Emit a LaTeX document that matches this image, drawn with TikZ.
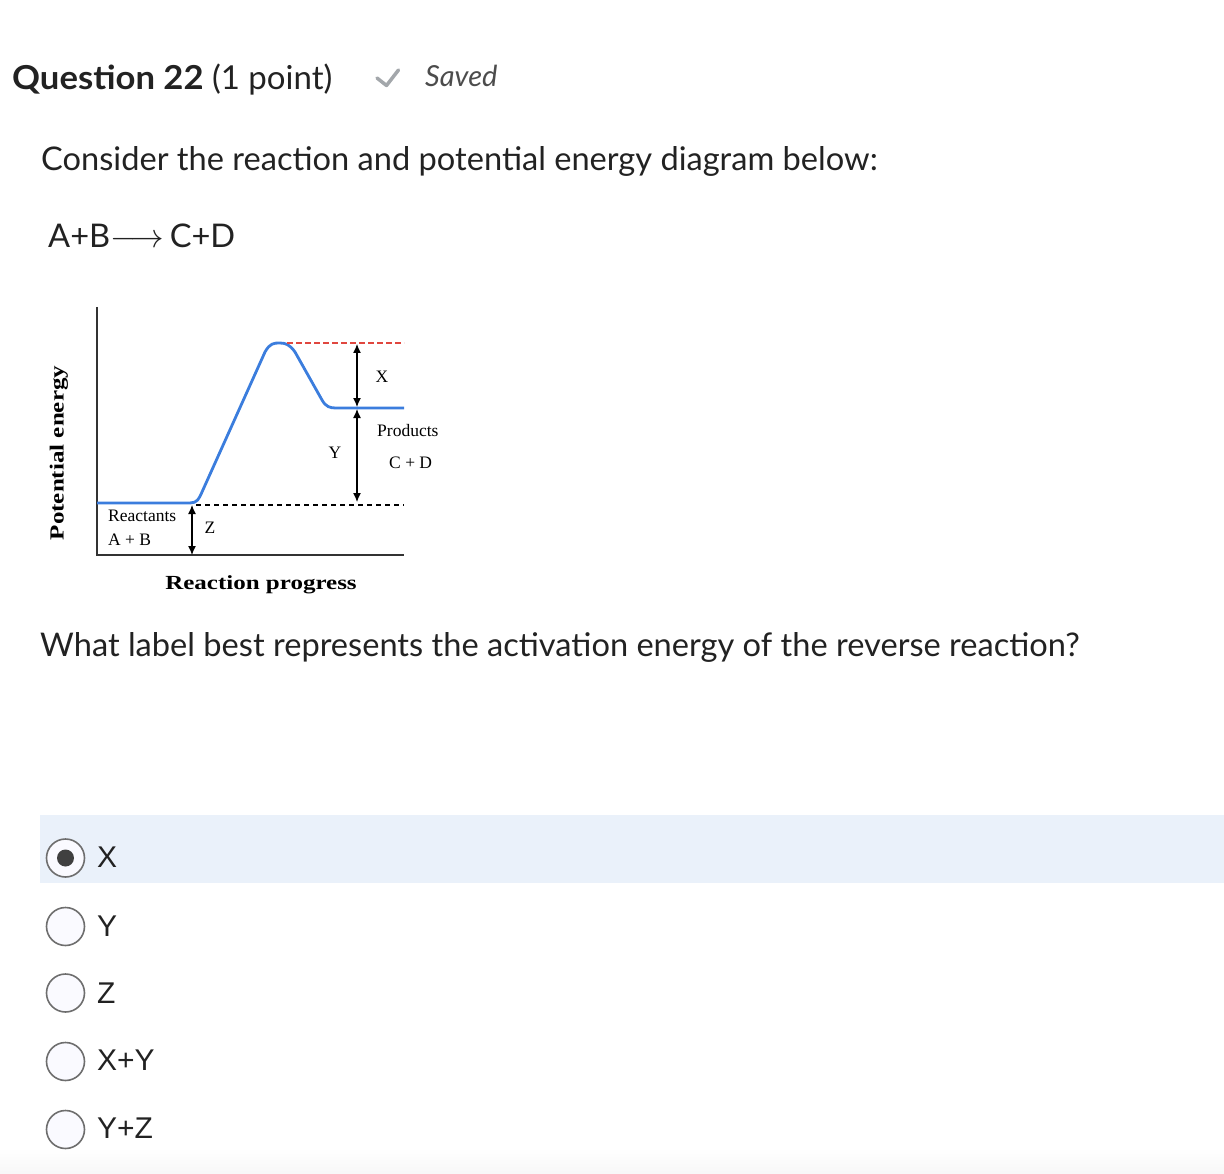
\documentclass[tikz,border=0pt]{standalone}
\usepackage{graphicx}
\usepackage{fontspec}
\setmainfont{Lato}
\newfontfamily\headfont[FakeStretch=1.05]{Lato}
\newfontfamily\plotfont{Liberation Serif}
\newfontfamily\plotbold[FakeStretch=1.25]{Liberation Serif}
\newfontfamily\optfont{Liberation Sans}
\usetikzlibrary{arrows.meta,positioning}

\definecolor{ink}{HTML}{222222}
\definecolor{curveblue}{HTML}{3B7DDD}
\definecolor{peakred}{HTML}{E0473F}
\definecolor{band}{HTML}{EAF1FA}
\definecolor{ring}{HTML}{6E6E6E}
\definecolor{tickgray}{HTML}{A3A7AB}

\begin{document}
\begin{tikzpicture}[x=1pt, y=-1pt,
    txt/.style={anchor=base west,inner sep=0pt,text=ink,font=\fontsize{32.6}{38}\selectfont},
    lbl/.style={inner sep=0pt,font=\plotfont\fontsize{17.5}{20}\selectfont},
    axlbl/.style={inner sep=0pt,font=\plotbold\bfseries\fontsize{20}{24}\selectfont},
    axis/.style={draw=black!80,line width=2pt},
    gap/.style={{Latex[length=9pt,width=8pt]}-{Latex[length=9pt,width=8pt]},line width=1.2pt},
    radio/.style={circle,draw=ring,fill=blue!2,line width=1.6pt,minimum size=38pt,inner sep=0pt},
    dot/.style={circle,fill=black!75,minimum size=17pt,inner sep=0pt},
    opt/.style={anchor=base west,inner sep=0pt,text=ink,font=\optfont\fontsize{30}{36}\selectfont}]
          \useasboundingbox (0,0) rectangle (1224,1174);
          \fill[band] (40,815) rectangle (1224,883);
          \shade[top color=white,bottom color=black!3] (0,1148) rectangle (1224,1174);

          % header
          \node[txt,font=\fontsize{33}{38}\selectfont](title) at (12,89.5)
            {{\headfont\bfseries Question 22} (1 point)};
          \draw[tickgray,line width=3.5pt,line cap=round,line join=round]
            (377,78) -- (386.5,85.5) -- (398.5,70);
          \node[txt,text=black!70,font=\itshape\fontsize{29}{34}\selectfont](saved) at (425,86.7) {Saved};
          \node[txt](intro)  at (41,171)    {Consider the reaction and potential energy diagram below:};
          \node[txt](rxn)    at (48,248)    {A+B\scalebox{1.35}{$\longrightarrow$}\,C+D};

          % energy diagram
          \coordinate (top) at (97,307);
          \coordinate (org) at (97,555);
          \coordinate (end) at (404,555);
          \draw[axis] (top) -- (org) -- (end);
          \draw[curveblue,line width=2.8pt,line join=round]
            (97,503) -- (190,503) .. controls (197,503) and (199,499) .. (202,492)
            -- (265,352) .. controls (270,343) and (274,343) .. (280,343)
            .. controls (286,343) and (290,345) .. (295,352)
            -- (322,400) .. controls (326,407) and (330,408) .. (336,408) -- (404,408);
          \coordinate (ts)  at (287,343);
          \coordinate (tsr) at (404,343);
          \coordinate (rl)  at (196,505);
          \coordinate (rr)  at (404,505);
          \draw[peakred,line width=1.5pt,dash pattern=on 6pt off 3pt] (ts) -- (tsr);
          \draw[black,line width=1.1pt,dash pattern=on 5pt off 4pt] (rl) -- (rr);
          \coordinate (xa) at (357,344);
          \coordinate (xb) at (357,407);
          \coordinate (ya) at (357,409);
          \coordinate (yb) at (357,502);
          \coordinate (za) at (192,505);
          \coordinate (zb) at (192,555);
          \draw[gap] (xa) -- (xb);
          \draw[gap] (ya) -- (yb);
          \draw[gap] (za) -- (zb);
          \node[lbl](X)      at (382,377)   {X};
          \node[lbl](Y)      at (335,453)   {Y};
          \node[lbl](Z)      at (210,528)   {Z};
          \node[lbl,anchor=west](prod) at (377,431) {Products};
          \node[lbl,anchor=west](cd)   at (389,463) {C + D};
          \node[lbl,anchor=west](reac) at (108,516) {Reactants};
          \node[lbl,anchor=west](ab)   at (108,540) {A + B};
          \node[axlbl,rotate=90](ylab) at (59,453)  {Potential energy};
          \node[axlbl](xlab) at (261,585)   {Reaction progress};

          % question and choices
          \node[txt](ask)    at (40,656)    {What label best represents the activation energy of the reverse reaction?};
          \node[radio](r1)   at (65.5,858)  {};
          \node[dot](d1)     at (r1)        {};
          \node[radio](r2)   at (65.5,926.5) {};
          \node[radio](r3)   at (65.5,993)  {};
          \node[radio](r4)   at (65.5,1061.5) {};
          \node[radio](r5)   at (65.5,1129.5) {};
          \node[opt](o1)     at (97,867)    {X};
          \node[opt](o2)     at (97,936)    {Y};
          \node[opt](o3)     at (97,1003)   {Z};
          \node[opt](o4)     at (97,1070)   {X+Y};
          \node[opt](o5)     at (97,1138)   {Y+Z};
\end{tikzpicture}
\end{document}
